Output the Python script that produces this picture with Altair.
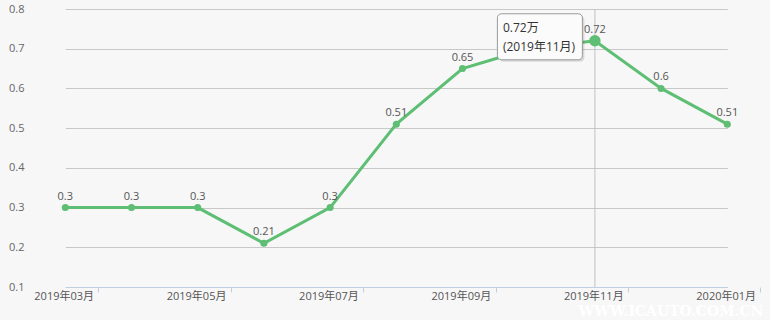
import altair as alt
import pandas as pd

months = ["2019年03月", "2019年04月", "2019年05月", "2019年06月", "2019年07月", "2019年08月",
          "2019年09月", "2019年10月", "2019年11月", "2019年12月", "2020年01月"]
values = [0.3, 0.3, 0.3, 0.21, 0.3, 0.51, 0.65, 0.70, 0.72, 0.6, 0.51]
# the October label sits under the tooltip in the reference
value_labels = ["0.3", "0.3", "0.3", "0.21", "0.3", "0.51", "0.65", "", "0.72", "0.6", "0.51"]
axis_months = months[::2]
y_ticks = [0.1, 0.2, 0.3, 0.4, 0.5, 0.6, 0.7, 0.8]
highlight_month = "2019年11月"
tooltip_lines = ["0.72万", "(2019年11月)"]
watermark = "WWW.ICAUTO.COM.CN"

df = pd.DataFrame({"month": months, "value": values, "label": value_labels})
hl = df[df["month"] == highlight_month].copy()
hl["t1"] = tooltip_lines[0]
hl["t2"] = tooltip_lines[1]
hl["top"] = y_ticks[-1]
hl["bottom"] = y_ticks[0]

FONT = "Open Sans, Noto Sans CJK SC, sans-serif"
GREEN = "#5dbe74"

xscale = alt.Scale(type="point", domain=months, range=[33.3, 695.3], padding=0)
yscale = alt.Scale(domain=[0.1, 0.8], nice=False, zero=False)

x_axis = alt.Axis(title=None, values=axis_months, labelAngle=0, labelAlign="left",
                  tickOffset=33, labelOffset=-64.5, tickSize=5, tickColor="#c0d0e0",
                  domainColor="#c0d0e0", labelColor="#555555", labelFontSize=11,
                  labelFont=FONT, labelPadding=-2, grid=False, labelBaseline="top",
                  labelOverlap=False)
y_axis = alt.Axis(title=None, values=y_ticks, format=".1f", domain=False, ticks=False,
                  labelColor="#666666", labelFontSize=11, labelFont=FONT, labelPadding=8,
                  gridColor="#c8c8c8", gridWidth=1, grid=True, labelOverlap=False)

X = alt.X("month:O", scale=xscale, axis=x_axis)
Y = alt.Y("value:Q", scale=yscale, axis=y_axis)

base = alt.Chart(df)
line = base.mark_line(color=GREEN, strokeWidth=3).encode(x=X, y=Y)

crosshair = alt.Chart(hl).mark_rule(color="#c0c0c0", strokeWidth=1).encode(
    x=X, y=alt.Y("top:Q", scale=yscale, axis=y_axis), y2="bottom:Q")

points = base.mark_circle(color=GREEN, size=50, opacity=1).encode(x=X, y=Y)
hl_point = alt.Chart(hl).mark_circle(color=GREEN, size=130, opacity=1).encode(x=X, y=Y)
labels = base.mark_text(dy=-11, fontSize=11, color="#555555", font=FONT).encode(
    x=X, y=Y, text="label:N")

shadow = alt.Chart(hl).mark_rect(width=85, height=46, cornerRadius=4, fill="#000000",
                                 opacity=0.12, xOffset=-53, yOffset=-2).encode(x=X, y=Y)
box = alt.Chart(hl).mark_rect(width=85, height=46, cornerRadius=4, fill="#fbfbfb",
                              stroke="#9a9a9a", strokeWidth=1, xOffset=-55, yOffset=-4).encode(x=X, y=Y)
t1 = alt.Chart(hl).mark_text(align="left", fontSize=12, color="#333333", font=FONT,
                             xOffset=-92, yOffset=-13).encode(x=X, y=Y, text="t1:N")
t2 = alt.Chart(hl).mark_text(align="left", fontSize=12, color="#333333", font=FONT,
                             xOffset=-92, yOffset=6).encode(x=X, y=Y, text="t2:N")

wm = alt.Chart(pd.DataFrame({"t": [watermark]})).mark_text(
    fontSize=14, fontWeight="bold", font="DejaVu Serif", color="#ffffff", align="center"
).encode(x=alt.value(639), y=alt.value(303), text="t:N")

chart = alt.layer(crosshair, line, points, hl_point, labels, shadow, box, t1, t2, wm).properties(
    width=738, height=278, background="#f7f7f7",
    autosize=alt.AutoSizeParams(type="none"),
    padding={"left": 32, "top": 9, "right": 0, "bottom": 33},
).configure_view(stroke=None)

chart.save("out.html", embed_options={"renderer": "svg", "actions": False})
